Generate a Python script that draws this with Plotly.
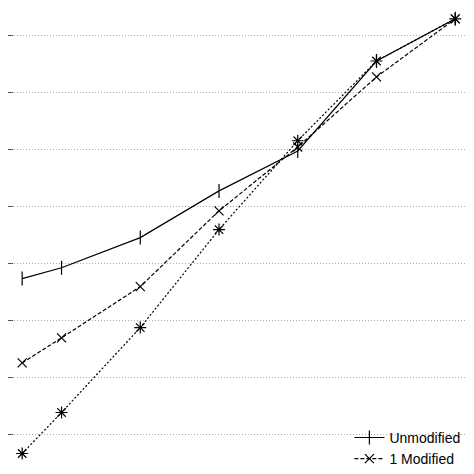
import plotly.graph_objects as go

x = [1, 2, 4, 6, 8, 10, 12]
unmodified = [2.74, 2.93, 3.46, 4.28, 4.98, 6.56, 7.30]
one_modified = [1.26, 1.70, 2.60, 3.93, 5.05, 6.28, 7.30]
two_modified = [-0.33, 0.39, 1.88, 3.60, 5.16, 6.56, 7.30]

fig = go.Figure()
fig.add_trace(go.Scatter(x=x, y=unmodified, name='Unmodified', mode='lines+markers',
                         line=dict(color='black', width=1.2),
                         marker=dict(symbol='line-ns-open', size=10, color='black', line=dict(width=1.2))))
fig.add_trace(go.Scatter(x=x, y=one_modified, name='1 Modified', mode='lines+markers',
                         line=dict(color='black', width=1.2, dash='4px,2px'),
                         marker=dict(symbol='x-thin-open', size=9, color='black', line=dict(width=1.2))))
fig.add_trace(go.Scatter(x=x, y=two_modified, name='2 Modified', mode='lines+markers', showlegend=False,
                         line=dict(color='black', width=1.2, dash='2px,2px'),
                         marker=dict(symbol='asterisk-open', size=10, color='black', line=dict(width=1.2))))

fig.update_layout(
    width=474, height=474, margin=dict(l=0, r=0, t=0, b=0),
    plot_bgcolor='white', paper_bgcolor='white',
    font=dict(family='Liberation Sans', size=14, color='black'),
    legend=dict(x=0.965, y=0.015, xanchor='right', yanchor='bottom', bgcolor='rgba(0,0,0,0)',
                tracegroupgap=0, itemwidth=30),
)
fig.update_xaxes(range=[0.64, 12.68], showgrid=False, showticklabels=False, zeroline=False)
fig.update_yaxes(range=[-0.83, 7.49], dtick=1, tick0=0, showticklabels=False, zeroline=False,
                 gridcolor='#aaaaaa', griddash='1px,2px', gridwidth=1,
                 ticks='inside', ticklen=5, tickcolor='#555555')

fig.write_html("out.html")
